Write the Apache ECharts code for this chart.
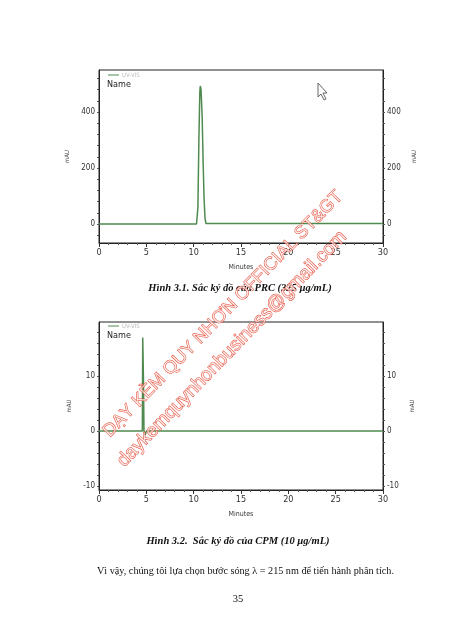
<!DOCTYPE html>
<html>
<head>
<meta charset="utf-8">
<script src="https://cdn.jsdelivr.net/npm/echarts@6/dist/echarts.min.js"></script>
<style>
  html, body { margin: 0; padding: 0; background: #fff; }
  #chart { width: 452px; height: 640px; }
</style>
</head>
<body>
<div id="chart"></div>
<script>
// PRC chromatogram (minutes, mAU)
const prcTrace = [
  [0, 0], [10.3, 0], [10.45, 60], [10.55, 300], [10.65, 470], [10.7, 493],
  [10.78, 480], [10.9, 380], [11.0, 220], [11.1, 90], [11.2, 20], [11.3, 2], [30, 2]
]
// CPM chromatogram (minutes, mAU)
const cpmTrace = [
  [0, 0], [4.58, 0], [4.62, 17], [4.66, 17.2], [4.7, 9], [4.75, 0],
  [4.88, -0.7], [5.0, 0], [30, 0]
]

const xLabels = [0, 5, 10, 15, 20, 25, 30]
const prcLabels = [0, 200, 400]
const prcTicks = [-40, 0, 40, 80, 120, 160, 200, 240, 280, 320, 360, 400, 440, 480, 520]
const cpmLabels = [-10, 0, 10]
const cpmTicks = [-10, -8, -6, -4, -2, 0, 2, 4, 6, 8, 10, 12, 14, 16, 18]

const legendName = 'UV-VIS'
const captions = [
  'Hình 3.1. Sắc ký đồ của PRC (325 µg/mL)',
  'Hình 3.2.  Sắc ký đồ của CPM (10 µg/mL)'
]
const bodyText = 'Vì vậy, chúng tôi lựa chọn bước sóng λ = 215 nm để tiến hành phân tích.'
const pageNo = '35'
const watermark = ['DẠY KÈM QUY NHƠN OFFICIAL ST&GT', 'daykemquynhonbusiness@gmail.com']

const axisFont = '"DejaVu Sans Condensed", sans-serif'
const lineColor = '#4f8a4f'

const xAxisFor = (gridIndex) => ({
  type: 'value',
  gridIndex,
  min: 0,
  max: 30,
  interval: 5,
  name: 'Minutes',
  nameLocation: 'middle',
  nameGap: 21,
  nameTextStyle: { color: '#333', fontSize: 7, fontFamily: axisFont },
  axisLine: { onZero: false, lineStyle: { color: '#222', width: 1 } },
  axisTick: { length: 4, lineStyle: { color: '#333' } },
  minorTick: { show: true, splitNumber: 5, length: 2, lineStyle: { color: '#555' } },
  axisLabel: { color: '#333', fontSize: 9, fontFamily: axisFont, margin: 5 },
  splitLine: { show: false }
})

const yAxisFor = (gridIndex, position, min, max, labels, ticks) => ({
  type: 'value',
  gridIndex,
  position,
  min,
  max,
  name: 'mAU',
  nameLocation: 'middle',
  nameGap: 20,
  nameTextStyle: { color: '#444', fontSize: 6, fontFamily: axisFont },
  axisLine: { show: true, onZero: false, lineStyle: { color: '#222', width: 1 } },
  axisTick: { show: true, length: 2, customValues: ticks, lineStyle: { color: '#555' } },
  axisLabel: { color: '#333', fontSize: 8, fontFamily: axisFont, margin: 4, customValues: labels },
  splitLine: { show: false }
})

const legendFor = (top) => [
  { type: 'line', shape: { x1: 108, y1: top, x2: 119, y2: top }, style: { stroke: lineColor, lineWidth: 1 } },
  { type: 'text', x: 122, y: top, style: { text: legendName, fill: '#bbb', font: '6px ' + axisFont, textVerticalAlign: 'middle' } },
  { type: 'text', x: 107, y: top + 10, style: { text: 'Name', fill: '#222', font: '9px ' + axisFont, textVerticalAlign: 'middle' } }
]

const chart = echarts.init(document.getElementById('chart'), null, { renderer: 'canvas' })

chart.setOption({
  backgroundColor: '#fff',
  animation: false,
  grid: [
    { left: 99, top: 70, width: 284, height: 173, show: true, borderColor: '#222', borderWidth: 1 },
    { left: 99, top: 322, width: 284, height: 168, show: true, borderColor: '#222', borderWidth: 1 }
  ],
  xAxis: [xAxisFor(0), xAxisFor(1)],
  yAxis: [
    yAxisFor(0, 'left', -68, 550, prcLabels, prcTicks),
    yAxisFor(0, 'right', -68, 550, prcLabels, prcTicks),
    yAxisFor(1, 'left', -10.7, 19.8, cpmLabels, cpmTicks),
    yAxisFor(1, 'right', -10.7, 19.8, cpmLabels, cpmTicks)
  ],
  series: [
    {
      type: 'line', xAxisIndex: 0, yAxisIndex: 0, data: prcTrace,
      showSymbol: false, lineStyle: { color: lineColor, width: 1.5 }
    },
    {
      type: 'line', xAxisIndex: 1, yAxisIndex: 2, data: cpmTrace,
      showSymbol: false, lineStyle: { color: lineColor, width: 1.5 }
    }
  ],
  graphic: [
    ...legendFor(75),
    ...legendFor(326),
    // mouse pointer left on the screenshot
    {
      type: 'polygon',
      shape: { points: [[318, 83], [318, 97], [321, 94], [324, 100], [326, 99], [323, 93], [327, 93]] },
      style: { fill: '#fff', stroke: '#666', lineWidth: 1 }
    },
    {
      type: 'text', x: 240, y: 288,
      style: { text: captions[0], fill: '#111', font: 'italic bold 10.5px "Liberation Serif"', textAlign: 'center', textVerticalAlign: 'middle' }
    },
    {
      type: 'text', x: 238, y: 541,
      style: { text: captions[1], fill: '#111', font: 'italic bold 10.5px "Liberation Serif"', textAlign: 'center', textVerticalAlign: 'middle' }
    },
    {
      type: 'text', x: 97, y: 571,
      style: { text: bodyText, fill: '#111', font: '10.2px "Liberation Serif"', textVerticalAlign: 'middle' }
    },
    {
      type: 'text', x: 238, y: 599,
      style: { text: pageNo, fill: '#111', font: '10.5px "Liberation Serif"', textAlign: 'center', textVerticalAlign: 'middle' }
    },
    // red watermark
    {
      type: 'text', x: 223, y: 314, rotation: 0.8, z: 100,
      style: { text: watermark[0], fill: 'rgba(255,255,255,0.6)', stroke: '#e2402c', lineWidth: 0.8, font: '18px "Liberation Sans"', textAlign: 'center', textVerticalAlign: 'middle' }
    },
    {
      type: 'text', x: 232, y: 349, rotation: 0.8, z: 100,
      style: { text: watermark[1], fill: 'rgba(255,255,255,0.6)', stroke: '#e2402c', lineWidth: 0.8, font: '19px "Liberation Sans"', textAlign: 'center', textVerticalAlign: 'middle' }
    }
  ]
})
</script>
</body>
</html>
